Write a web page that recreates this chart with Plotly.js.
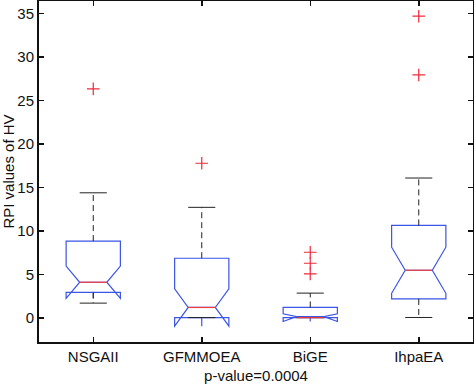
<!DOCTYPE html>
<html>
<head>
<meta charset="utf-8">
<script src="https://cdn.plot.ly/plotly-3.0.1.min.js"></script>
<style>html,body{margin:0;padding:0;background:#fff;}#chart{width:474px;height:384px;}</style>
</head>
<body>
<div id="chart"></div>
<script>
// Data
var categories = ["NSGAII", "GFMMOEA", "BiGE", "IhpaEA"];
var positions = [1, 2, 3, 4];
var q1Values = [2.95, 0.05, 0.05, 2.2];
var medianValues = [4.12, 1.22, 0.05, 5.5];
var q3Values = [8.85, 6.88, 1.22, 10.65];
var lowerWhisker = [1.72, 0.05, 0.05, 0.07];
var upperWhisker = [14.4, 12.73, 2.87, 16.1];
var notchSpan = [1.86, 2.15, 0.44, 2.65];
var outlierCategory = [1, 2, 3, 3, 3, 4, 4];
var outlierValues = [26.35, 17.8, 7.57, 6.3, 5.08, 34.7, 27.95];
var yTicks = [0, 5, 10, 15, 20, 25, 30, 35];

var BOX_WIDTH = 0.5, CAP_HALF = 0.125, MED_HALF = 0.125;

// whiskers (dashed) and caps (solid)
var wx = [], wy = [], cx = [], cy = [], mx = [], my = [];
for (var i = 0; i < positions.length; i++) {
  var p = positions[i];
  wx.push(p, p, null, p, p, null);
  wy.push(q3Values[i], upperWhisker[i], null, q1Values[i], lowerWhisker[i], null);
  cx.push(p - CAP_HALF, p + CAP_HALF, null, p - CAP_HALF, p + CAP_HALF, null);
  cy.push(upperWhisker[i], upperWhisker[i], null, lowerWhisker[i], lowerWhisker[i], null);
  mx.push(p - MED_HALF, p + MED_HALF, null);
  my.push(medianValues[i], medianValues[i], null);
}

var traces = [
  {type: 'scatter', mode: 'lines', x: wx, y: wy, line: {color: '#222', width: 1, dash: '6px,4px'}, hoverinfo: 'skip', showlegend: false},
  {type: 'scatter', mode: 'lines', x: cx, y: cy, line: {color: '#222', width: 1}, hoverinfo: 'skip', showlegend: false},
  {type: 'box', x: positions, q1: q1Values, median: medianValues, q3: q3Values,
   lowerfence: q1Values, upperfence: q3Values, notchspan: notchSpan,
   notched: true, notchwidth: 0.25, width: BOX_WIDTH, whiskerwidth: 0,
   boxpoints: false, fillcolor: 'rgba(0,0,0,0)', line: {color: '#3b55e6', width: 1.2}, showlegend: false},
  {type: 'scatter', mode: 'lines', x: mx, y: my, line: {color: '#f03c3c', width: 1.2}, hoverinfo: 'skip', showlegend: false},
  {type: 'scatter', mode: 'markers', x: outlierCategory, y: outlierValues,
   marker: {symbol: 'cross-thin-open', size: 9, color: '#ee2a3a', line: {color: '#ee2a3a', width: 1.2}}, showlegend: false}
];

var layout = {
  width: 474, height: 384,
  margin: {l: 39, r: 1, t: 1, b: 42},
  paper_bgcolor: '#fff', plot_bgcolor: '#fff',
  font: {family: 'Liberation Sans, Arial, sans-serif', size: 15, color: '#111'},
  showlegend: false,
  xaxis: {
    range: [0.5, 4.5], tickvals: positions, ticktext: categories,
    ticks: 'inside', ticklen: 5, tickwidth: 1.5, tickcolor: '#111',
    showline: true, linecolor: '#111', linewidth: 2, mirror: 'ticks',
    showgrid: false, zeroline: false,
    title: {text: 'p-value=0.0004', standoff: 6, font: {size: 15}}
  },
  yaxis: {
    range: [-2.75, 36.45], tickvals: yTicks,
    ticks: 'inside', ticklen: 5, tickwidth: 1.5, tickcolor: '#111',
    showline: true, linecolor: '#111', linewidth: 2, mirror: 'ticks',
    showgrid: false, zeroline: false,
    title: {text: 'RPI values of HV', standoff: 6, font: {size: 15}}
  }
};

Plotly.newPlot('chart', traces, layout, {staticPlot: true, displayModeBar: false});
</script>
</body>
</html>
